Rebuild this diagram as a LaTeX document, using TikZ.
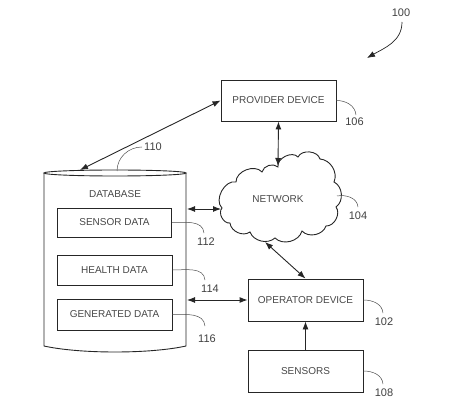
\documentclass[tikz,border=0pt]{standalone}
\usepackage{fontspec}
\setmainfont{Liberation Sans}
\usetikzlibrary{arrows.meta}
\begin{document}
\begin{tikzpicture}[x=1pt,y=-1pt,
  line/.style={draw=black!85, line width=0.9pt},
  box/.style={line, rectangle, text=black!72, font=\fontsize{10}{12}\selectfont, inner sep=0pt},
  txt/.style={text=black!72, font=\fontsize{10}{12}\selectfont, inner sep=0pt},
  lbl/.style={text=black!75, font=\fontsize{11}{13}\selectfont, inner sep=0pt},
  lead/.style={draw=black!70, line width=0.5pt},
  dbl/.style={line, {Latex[length=8pt,width=6pt]}-{Latex[length=8pt,width=6pt]}},
  sgl/.style={line, -{Latex[length=8pt,width=6pt]}}]
\useasboundingbox (0,0) rectangle (474,414);

% boxes
\node[box, minimum width=115pt, minimum height=41pt] (prov) at (278.5,100.5) {PROVIDER DEVICE};
\node[box, minimum width=115pt, minimum height=42pt] (oper) at (305.5,300) {OPERATOR DEVICE};
\node[box, minimum width=115pt, minimum height=42pt] (sens) at (305.5,371) {SENSORS};

% database cylinder
\draw[line] (44,173) -- (44,346) .. controls (80,354) and (150,354) .. (186,346) -- (186,173);
\draw[line] (115,173) ellipse [x radius=71, y radius=3];
\node[txt] (dbl) at (115,194) {DATABASE};
\node[box, minimum width=114pt, minimum height=29pt] (sdata) at (114.5,222.5) {SENSOR DATA};
\node[box, minimum width=115pt, minimum height=30pt] (hdata) at (114.5,270) {HEALTH DATA};
\node[box, minimum width=115pt, minimum height=31pt] (gdata) at (114.5,314.5) {GENERATED DATA};
\coordinate (dbtop) at (80,170);
\coordinate (dbnet) at (187,209);
\coordinate (dbop) at (187,300);
\coordinate (dbrim) at (117,171);

% network cloud
\draw[line] (222,208) to[bend left=75] (236,182)
  to[bend left=70] (262,172)
  to[bend left=60] (278,167)
  to[bend left=75] (298,157)
  to[bend left=70] (320,159)
  to[bend left=55] (334,182)
  to[bend left=60] (336,207)
  to[bend left=65] (326,226)
  to[bend left=60] (302,231)
  to[bend left=60] (275,238)
  to[bend left=55] (250,232)
  to[bend left=60] (230,223)
  to[bend left=70] cycle;
\node[txt] (net) at (278,199) {NETWORK};
\coordinate (nettop) at (278,166);
\coordinate (netleft) at (221,209);
\coordinate (netbot) at (265,242);

% connectors
\draw[dbl] (dbtop) -- (prov.west);
\draw[dbl] (prov.south) -- (nettop);
\draw[dbl] (dbnet) -- (netleft);
\draw[dbl] (netbot) -- (oper.north);
\draw[dbl] (dbop) -- (oper.west);
\draw[sgl] (sens.north) -- (oper.south);

% reference labels
\node[lbl] (l100) at (401,13) {100};
\coordinate (c100) at (367,58);
\draw[sgl, line width=0.7pt] (402,22) to[out=-90,in=30] (c100);

\node[lbl] (l106) at (354.5,122) {106};
\draw[lead] (prov.east) to[out=0,in=95] (356,115);
\node[lbl] (l110) at (153,147) {110};
\draw[lead] (dbrim) to[out=90,in=180] (142,147);
\node[lbl] (l104) at (358,216) {104};
\draw[lead] (337,196) to[out=10,in=95] (358,207);
\node[lbl] (l112) at (206,242) {112};
\draw[lead] (sdata.east) to[out=0,in=95] (204,233);
\node[lbl] (l114) at (210,289) {114};
\draw[lead] (hdata.east) to[out=0,in=95] (205,280);
\node[lbl] (l116) at (207,339) {116};
\draw[lead] (gdata.east) to[out=0,in=95] (205,326);
\node[lbl] (l102) at (384,322) {102};
\draw[lead] (oper.east) to[out=0,in=95] (383,313);
\node[lbl] (l108) at (384,393) {108};
\draw[lead] (sens.east) to[out=0,in=95] (383,384);
\end{tikzpicture}
\end{document}
